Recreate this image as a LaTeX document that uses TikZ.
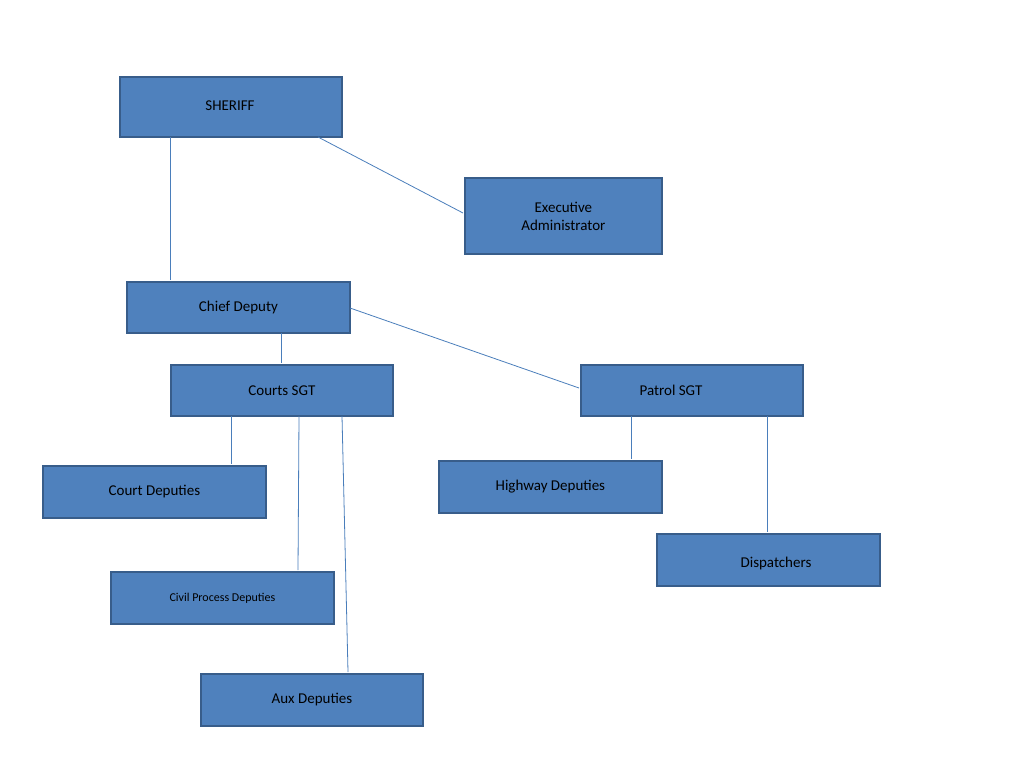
\documentclass[tikz,border=0pt]{standalone}
\usepackage{fontspec}
\setmainfont{Carlito}
\begin{document}
\begin{tikzpicture}[x=1pt,y=-1pt,
  box/.style={draw=boxborder,line width=1.8pt,fill=boxfill,anchor=north west,inner sep=0pt,font=\fontsize{15}{18}\selectfont},
  ln/.style={draw=lineblue,line width=0.8pt}]
\definecolor{boxfill}{HTML}{4F81BD}
\definecolor{boxborder}{HTML}{385D8A}
\definecolor{lineblue}{HTML}{4A7EBB}
\useasboundingbox (0,0) rectangle (1024,768);
\node[box,minimum width=222pt,minimum height=60pt] (sheriff) at (119,76) {};
\node at (230,106) [font=\fontsize{15}{18}\selectfont] {SHERIFF};
\node[box,minimum width=197pt,minimum height=76pt,align=center] (exec) at (464,177) {Executive\\Administrator};
\node[box,minimum width=223pt,minimum height=51pt] (chief) at (126,281) {Chief Deputy};
\node[box,minimum width=222pt,minimum height=51pt] (courts) at (170,364) {Courts SGT};
\node[box,minimum width=222pt,minimum height=51pt] (patrol) at (580,364) {};
\node at (671,390) [font=\fontsize{15}{18}\selectfont] {Patrol SGT};
\node[box,minimum width=223pt,minimum height=52pt] (court) at (42,465) {Court Deputies};
\node[box,minimum width=223pt,minimum height=52pt] (hwy) at (438,460) {Highway Deputies};
\node[box,minimum width=223pt,minimum height=52pt] (disp) at (656,533) {};
\node at (776,563) [font=\fontsize{15}{18}\selectfont] {Dispatchers};
\node[box,minimum width=223pt,minimum height=52pt,font=\fontsize{12}{14}\selectfont] (civil) at (110,571) {Civil Process Deputies};
\node[box,minimum width=222pt,minimum height=52pt] (aux) at (200,673) {Aux Deputies};
\coordinate (s1) at (170,137); \coordinate (c1) at (170,280);
\coordinate (s2) at (318,137); \coordinate (e2) at (463,213);
\coordinate (c3) at (350,308); \coordinate (p3) at (579,388);
\coordinate (c4) at (281,333); \coordinate (k4) at (281,363);
\coordinate (k5) at (231,416); \coordinate (d5) at (231,464);
\coordinate (k6) at (299,416); \coordinate (v6) at (298,570);
\coordinate (k7) at (342,416); \coordinate (a7) at (348,672);
\coordinate (p8) at (631,416); \coordinate (h8) at (631,459);
\coordinate (p9) at (767,416); \coordinate (d9) at (767,532);
\draw[ln] (s1)--(c1); \draw[ln] (s2)--(e2); \draw[ln] (c3)--(p3);
\draw[ln] (c4)--(k4); \draw[ln] (k5)--(d5); \draw[ln] (k6)--(v6);
\draw[ln] (k7)--(a7); \draw[ln] (p8)--(h8); \draw[ln] (p9)--(d9);
\end{tikzpicture}
\end{document}
